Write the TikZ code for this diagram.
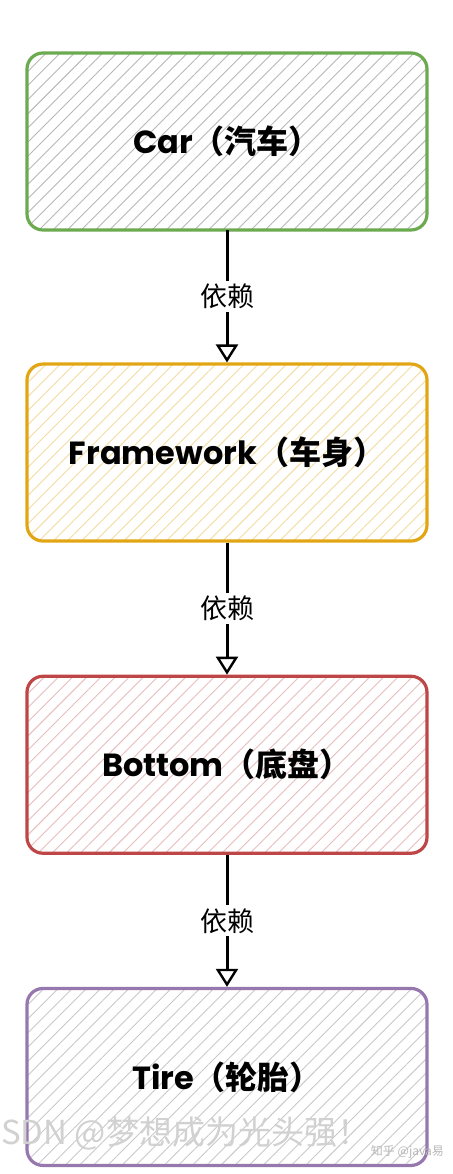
\documentclass[tikz,border=0pt]{standalone}
\usepackage{fontspec}
\setmainfont{Poppins}
\newfontfamily\cjk{Noto Sans CJK SC}
\usetikzlibrary{positioning,arrows.meta,patterns.meta}

\begin{document}
\begin{tikzpicture}[x=1pt,y=1pt,
    node distance=132pt,
    box/.style={line width=3.2pt,rounded corners=16pt,
      minimum width=400pt,minimum height=177pt,
      pattern={Lines[angle=45,distance=10pt,line width=0.9pt]},
      font=\fontsize{32}{38}\selectfont\bfseries},
    dep/.style={line width=3pt,
      -{Triangle[open,length=18pt,width=22pt,line width=2.4pt]}},
    deplabel/.style={fill=white,inner sep=3pt,font=\cjk\fontsize{27}{32}\selectfont}]

  \definecolor{carc}{RGB}{108,170,80} % green
  \definecolor{framec}{RGB}{226,166,20} % orange
  \definecolor{bottomc}{RGB}{190,70,70} % red
  \definecolor{tirec}{RGB}{150,120,175} % purple

  % Page
  \useasboundingbox[fill=white] (0,0) rectangle (452,1174);

  % Boxes
  \node[box,draw=carc,pattern color=black!28] (car) at (227,1032.5)
    {Car{\cjk\bfseries （汽车）}};
  \node[box,draw=framec,below=of car,pattern color=framec!40] (frame)
    {Framework{\cjk\bfseries （车身）}};
  \node[box,draw=bottomc,below=of frame,pattern color=bottomc!35] (bottom)
    {Bottom{\cjk\bfseries （底盘）}};
  \node[box,draw=tirec,below=of bottom,pattern color=tirec!30!black!25] (tire)
    {Tire{\cjk\bfseries （轮胎）}};

  % Dependencies
  \draw[dep] (car) -- node[deplabel] {依赖} (frame);
  \draw[dep] (frame) -- node[deplabel] {依赖} (bottom);
  \draw[dep] (bottom) -- node[deplabel] {依赖} (tire);

  % Watermarks
  \node[anchor=west,inner sep=0pt,text=black!18,
    font=\cjk\fontsize{33}{38}\selectfont] (mark) at (1,41) {SDN @梦想成为光头强！};
  \node[anchor=east,inner sep=0pt,text=black!28,
    font=\cjk\fontsize{12}{14}\selectfont] (zhihu) at (444,22) {知乎 @java易};

\end{tikzpicture}
\end{document}
